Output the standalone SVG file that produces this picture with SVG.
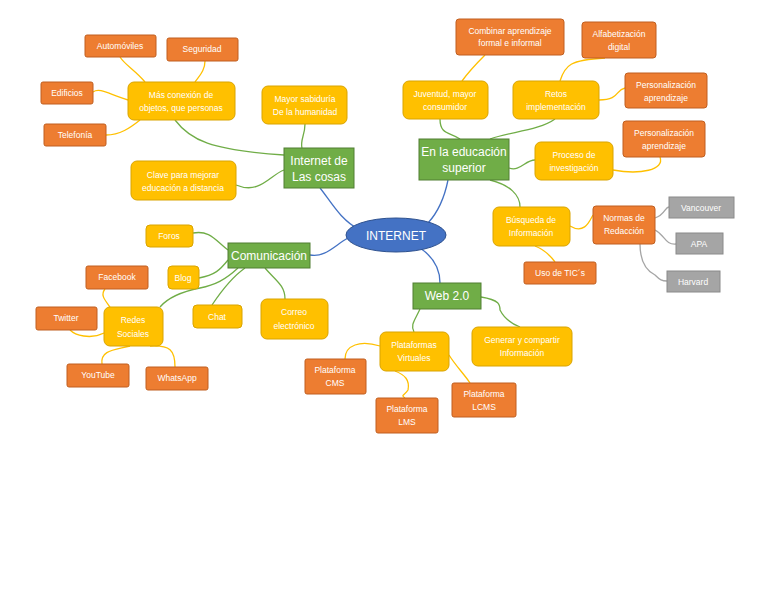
<svg xmlns="http://www.w3.org/2000/svg" width="768" height="594" viewBox="0 0 768 594">
<style>
text{font-family:"Liberation Sans",Arial,sans-serif;fill:#fff;text-anchor:middle}
.y{fill:#FFC000;stroke:#D9A400;stroke-width:1}
.o{fill:#ED7D31;stroke:#C05F20;stroke-width:1}
.g{fill:#70AD47;stroke:#507E32;stroke-width:1}
.s{fill:#A5A5A5;stroke:#8A8A8A;stroke-width:1}
.t{font-size:8.5px}
.m{font-size:12px}
#connectors path{fill:none;stroke-width:1.3}
.cb{stroke:#4472C4}.cg{stroke:#70AD47}.cy{stroke:#FFC000}.cs{stroke:#A5A5A5}
</style>
<rect width="768" height="594" fill="#fff"/>
<g id="connectors">
<path class="cb" d="M360,230 C340,220 330,200 320,188"/>
<path class="cb" d="M428,223 C440,210 445,195 448,180"/>
<path class="cb" d="M348,238 C335,245 325,258 310,255"/>
<path class="cb" d="M420,248 C435,258 440,270 440,283"/>
<path class="cg" d="M175,120 C190,140 210,150 284,155"/>
<path class="cg" d="M305,124 C305,135 300,140 302,148"/>
<path class="cg" d="M236,185 C260,195 270,175 284,170"/>
<path class="cg" d="M440,119 C440,135 450,132 460,139"/>
<path class="cg" d="M555,119 C540,130 510,132 490,139"/>
<path class="cg" d="M509,168 C520,172 525,160 535,160"/>
<path class="cg" d="M490,180 C510,185 520,195 520,207"/>
<path class="cg" d="M193,233 C210,230 215,240 228,250"/>
<path class="cg" d="M199,278 C215,275 220,270 228,260"/>
<path class="cg" d="M160,307 C170,295 190,290 200,288 C215,285 225,280 238,268"/>
<path class="cg" d="M212,305 C222,290 235,275 245,268"/>
<path class="cg" d="M285,299 C285,285 275,280 265,268"/>
<path class="cg" d="M420,309 C415,320 410,325 414,332"/>
<path class="cg" d="M481,297 C500,300 500,305 500,310 C505,320 515,325 520,327"/>
<path class="cy" d="M145,82 C135,70 125,65 120,57"/>
<path class="cy" d="M195,82 C200,75 205,70 205,61"/>
<path class="cy" d="M128,100 C110,95 100,87 93,92"/>
<path class="cy" d="M140,120 C130,128 120,135 106,135"/>
<path class="cy" d="M462,81 C470,70 480,60 485,55"/>
<path class="cy" d="M560,81 C565,65 570,60 605,58"/>
<path class="cy" d="M599,100 C620,100 615,90 625,88"/>
<path class="cy" d="M613,170 C640,175 665,170 660,157"/>
<path class="cy" d="M570,226 C585,235 590,220 593,215"/>
<path class="cy" d="M535,246 C545,250 550,255 555,262"/>
<path class="cy" d="M110,307 C105,300 100,295 105,289"/>
<path class="cy" d="M104,333 C90,340 75,335 70,330"/>
<path class="cy" d="M130,346 C115,350 100,350 102,364"/>
<path class="cy" d="M150,346 C170,345 175,350 175,367"/>
<path class="cy" d="M380,346 C360,340 345,345 345,359"/>
<path class="cy" d="M395,371 C405,375 410,380 408,390 C405,395 400,395 405,398"/>
<path class="cy" d="M449,355 C455,365 465,375 470,383"/>
<path class="cs" d="M655,218 C665,215 665,207 669,207"/>
<path class="cs" d="M655,230 C665,235 665,245 676,244"/>
<path class="cs" d="M640,244 C640,260 645,270 655,275 C660,280 662,281 667,281"/>
</g>
<g id="internet"><ellipse cx="396" cy="235" rx="50" ry="17" fill="#4472C4" stroke="#2F528F"/><text x="396" y="240" class="m">INTERNET</text></g>
<g id="iot"><rect class="g" x="284" y="148" width="70" height="40"/><text x="319" y="165" class="m">Internet de</text><text x="319" y="181" class="m">Las cosas</text></g>
<g id="edu"><rect class="g" x="419" y="139" width="90" height="41"/><text x="464" y="156" class="m">En la educación</text><text x="464" y="172" class="m">superior</text></g>
<g id="com"><rect class="g" x="228" y="243" width="82" height="25"/><text x="269" y="260" class="m">Comunicación</text></g>
<g id="web"><rect class="g" x="413" y="283" width="68" height="26"/><text x="447" y="300" class="m">Web 2.0</text></g>
<g id="mas"><rect class="y" x="128" y="82" width="107" height="38" rx="6"/><text x="181" y="98" class="t">Más conexión de</text><text x="181" y="111" class="t">objetos, que personas</text></g>
<g id="mayor"><rect class="y" x="262" y="86" width="85" height="38" rx="6"/><text x="305" y="102" class="t">Mayor sabiduría</text><text x="305" y="115" class="t">De la humanidad</text></g>
<g id="clave"><rect class="y" x="131" y="161" width="105" height="39" rx="6"/><text x="183" y="178" class="t">Clave para mejorar</text><text x="183" y="191" class="t">educación a distancia</text></g>
<g id="juv"><rect class="y" x="403" y="81" width="85" height="38" rx="6"/><text x="445" y="97" class="t">Juventud, mayor</text><text x="445" y="110" class="t">consumidor</text></g>
<g id="retos"><rect class="y" x="513" y="81" width="86" height="38" rx="6"/><text x="556" y="97" class="t">Retos</text><text x="556" y="110" class="t">implementación</text></g>
<g id="proc"><rect class="y" x="535" y="142" width="78" height="38" rx="6"/><text x="574" y="158" class="t">Proceso de</text><text x="574" y="171" class="t">investigación</text></g>
<g id="busq"><rect class="y" x="493" y="207" width="77" height="39" rx="6"/><text x="531" y="223" class="t">Búsqueda de</text><text x="531" y="236" class="t">Información</text></g>
<g id="foros"><rect class="y" x="146" y="225" width="47" height="22" rx="4"/><text x="169" y="239" class="t">Foros</text></g>
<g id="blog"><rect class="y" x="168" y="266" width="31" height="23" rx="4"/><text x="183" y="281" class="t">Blog</text></g>
<g id="redes"><rect class="y" x="104" y="307" width="59" height="39" rx="6"/><text x="133" y="323" class="t">Redes</text><text x="133" y="337" class="t">Sociales</text></g>
<g id="chat"><rect class="y" x="193" y="305" width="49" height="23" rx="4"/><text x="217" y="320" class="t">Chat</text></g>
<g id="correo"><rect class="y" x="261" y="299" width="67" height="40" rx="6"/><text x="294" y="315" class="t">Correo</text><text x="294" y="329" class="t">electrónico</text></g>
<g id="plat"><rect class="y" x="380" y="332" width="69" height="39" rx="6"/><text x="414" y="348" class="t">Plataformas</text><text x="414" y="361" class="t">Virtuales</text></g>
<g id="gen"><rect class="y" x="472" y="327" width="100" height="39" rx="6"/><text x="522" y="343" class="t">Generar y compartir</text><text x="522" y="356" class="t">Información</text></g>
<g id="auto"><rect class="o" x="85" y="35" width="71" height="22" rx="2"/><text x="120" y="49" class="t">Automóviles</text></g>
<g id="seg"><rect class="o" x="167" y="38" width="71" height="23" rx="2"/><text x="202" y="52" class="t">Seguridad</text></g>
<g id="edif"><rect class="o" x="41" y="82" width="52" height="22" rx="2"/><text x="67" y="96" class="t">Edificios</text></g>
<g id="tel"><rect class="o" x="44" y="124" width="62" height="22" rx="2"/><text x="75" y="138" class="t">Telefonía</text></g>
<g id="comb"><rect class="o" x="456" y="19" width="108" height="36" rx="3"/><text x="510" y="34" class="t">Combinar aprendizaje</text><text x="510" y="46" class="t">formal e informal</text></g>
<g id="alfa"><rect class="o" x="582" y="22" width="74" height="36" rx="3"/><text x="619" y="37" class="t">Alfabetización</text><text x="619" y="50" class="t">digital</text></g>
<g id="pers1"><rect class="o" x="625" y="73" width="82" height="35" rx="3"/><text x="666" y="88" class="t">Personalización</text><text x="666" y="101" class="t">aprendizaje</text></g>
<g id="pers2"><rect class="o" x="623" y="121" width="82" height="36" rx="3"/><text x="664" y="136" class="t">Personalización</text><text x="664" y="149" class="t">aprendizaje</text></g>
<g id="normas"><rect class="o" x="593" y="206" width="62" height="38" rx="3"/><text x="624" y="221" class="t">Normas de</text><text x="624" y="234" class="t">Redacción</text></g>
<g id="uso"><rect class="o" x="524" y="262" width="72" height="22" rx="2"/><text x="560" y="276" class="t">Uso de TIC´s</text></g>
<g id="fb"><rect class="o" x="86" y="266" width="62" height="23" rx="2"/><text x="117" y="280" class="t">Facebook</text></g>
<g id="tw"><rect class="o" x="36" y="307" width="61" height="23" rx="2"/><text x="66" y="321" class="t">Twitter</text></g>
<g id="yt"><rect class="o" x="67" y="364" width="62" height="23" rx="2"/><text x="98" y="378" class="t">YouTube</text></g>
<g id="wa"><rect class="o" x="146" y="367" width="62" height="23" rx="2"/><text x="177" y="381" class="t">WhatsApp</text></g>
<g id="cms"><rect class="o" x="305" y="359" width="61" height="35" rx="2"/><text x="335" y="373" class="t">Plataforma</text><text x="335" y="386" class="t">CMS</text></g>
<g id="lms"><rect class="o" x="376" y="398" width="62" height="35" rx="2"/><text x="407" y="412" class="t">Plataforma</text><text x="407" y="425" class="t">LMS</text></g>
<g id="lcms"><rect class="o" x="452" y="383" width="64" height="34" rx="2"/><text x="484" y="397" class="t">Plataforma</text><text x="484" y="410" class="t">LCMS</text></g>
<g id="van"><rect class="s" x="669" y="197" width="65" height="21"/><text x="701" y="211" class="t">Vancouver</text></g>
<g id="apa"><rect class="s" x="676" y="233" width="47" height="21"/><text x="699" y="247" class="t">APA</text></g>
<g id="harv"><rect class="s" x="667" y="271" width="53" height="21"/><text x="693" y="285" class="t">Harvard</text></g>
</svg>
